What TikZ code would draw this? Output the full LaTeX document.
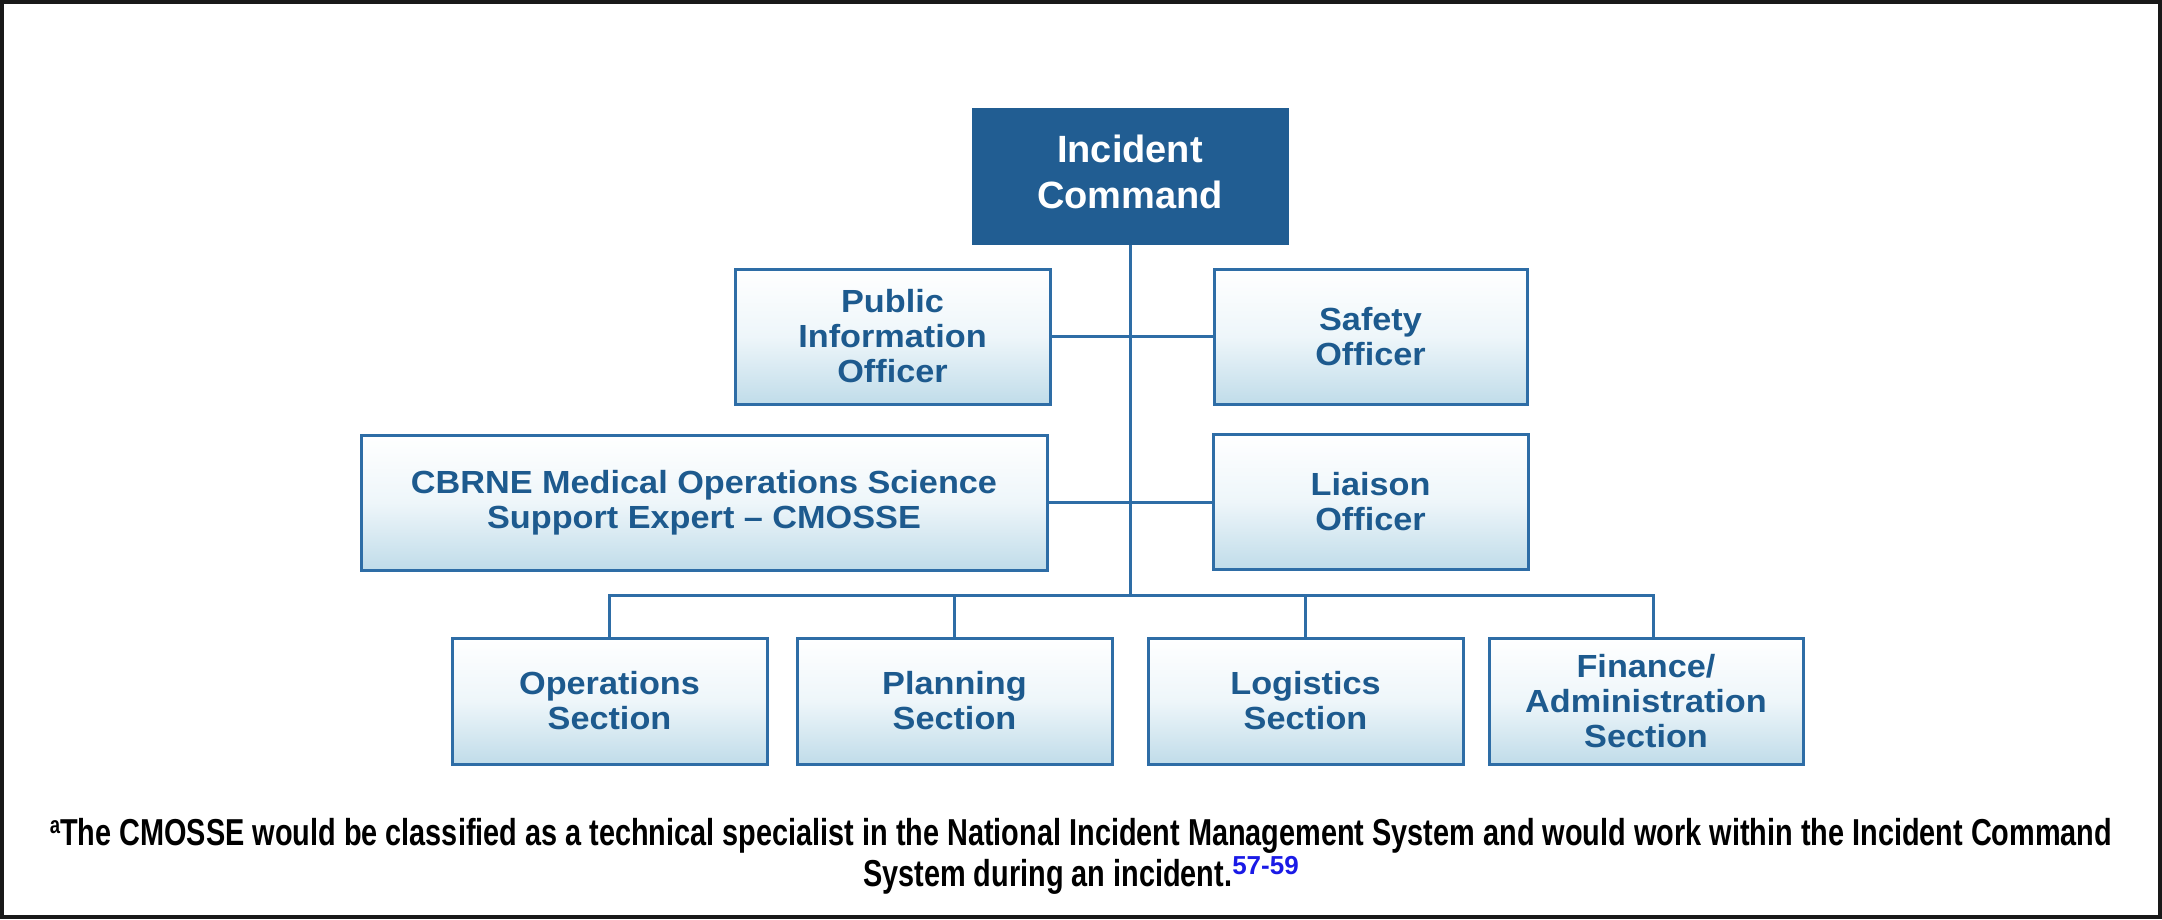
\documentclass[tikz,border=0pt]{standalone}
\usepackage{fontspec}
\setmainfont{Liberation Sans}
\newfontfamily\boxfont[FakeStretch=1.07]{Liberation Sans}
\newfontfamily\notefont[FakeStretch=0.77]{Liberation Sans}
\newfontfamily\supfont{Liberation Sans}
\definecolor{icfill}{HTML}{215D92}
\definecolor{boxline}{HTML}{2E6DA6}
\definecolor{lineblue}{HTML}{2E6DA6}
\definecolor{boxtext}{HTML}{1D5A8E}
\definecolor{boxbot}{HTML}{C0DCE9}
\definecolor{boxmid}{HTML}{EEF6FA}
\definecolor{refblue}{HTML}{1A1AE6}
\begin{document}
\begin{tikzpicture}[x=1pt,y=-1pt,
  box/.style={draw=boxline, line width=3pt, top color=white, bottom color=boxbot, middle color=boxmid,
    text=boxtext, font={\boxfont\bfseries\fontsize{32}{35}\selectfont}, align=center, inner sep=0pt,
    minimum height=135pt},
  sbox/.style={box, minimum height=126pt},
  icbox/.style={draw=icfill, line width=3pt, fill=icfill, text=white,
    font={\supfont\bfseries\fontsize{38}{46}\selectfont}, inner sep=0pt},
  conn/.style={draw=lineblue, line width=3pt},
  note/.style={anchor=base, inner sep=0pt, text=black, font={\notefont\bfseries\fontsize{37.5}{41}\selectfont}}
]
\useasboundingbox (0,0) rectangle (2162,920);
\draw[line width=4pt, black!90] (2,2) rectangle (2160,917);

\node[icbox, minimum width=314pt, minimum height=133pt] (ic) at (1130,176.5)
  {\raisebox{6pt}{\begin{tabular}{@{}c@{}}Incident\\Command\end{tabular}}};
\node[box, minimum width=315pt] (pio) at (892.5,336.5) {Public\\Information\\Officer};
\node[box, minimum width=313pt] (saf) at (1370.5,336.5) {Safety\\Officer};
\node[box, minimum width=686pt] (cb) at (704,502.5) {CBRNE Medical Operations Science\\Support Expert – CMOSSE};
\node[box, minimum width=315pt] (lia) at (1370.5,501.5) {Liaison\\Officer};
\node[sbox, minimum width=315pt] (ops) at (609.5,701) {Operations\\Section};
\node[sbox, minimum width=315pt] (pln) at (954.5,701) {Planning\\Section};
\node[sbox, minimum width=315pt] (log) at (1305.5,701) {Logistics\\Section};
\node[sbox, minimum width=314pt] (fin) at (1646,701) {Finance/\\Administration\\Section};

\coordinate (bus) at (0,595);
\coordinate (findrop) at ([xshift=7pt]fin.north);
\draw[conn] (ic.south) -- (ic.south |- bus);
\draw[conn] (pio.east) -- (saf.west);
\draw[conn] (cb.east) -- (cb.east -| lia.west);
\draw[conn, line join=miter] (ops.north) -- (ops.north |- bus) -- (findrop |- bus) -- (findrop);
\draw[conn] (pln.north) -- (pln.north |- bus);
\draw[conn] (log.north) -- (log.north |- bus);

\node[note] (n1) at (1081,845) {\raisebox{12pt}{\fontsize{24}{24}\selectfont a}The CMOSSE would be classified as a technical specialist in the National Incident Management System and would work within the Incident Command};
\node[note] (n2) at (1081,886) {System during an incident.\raisebox{12pt}{\supfont\bfseries\fontsize{26}{26}\selectfont\color{refblue}57-59}};
\end{tikzpicture}
\end{document}
